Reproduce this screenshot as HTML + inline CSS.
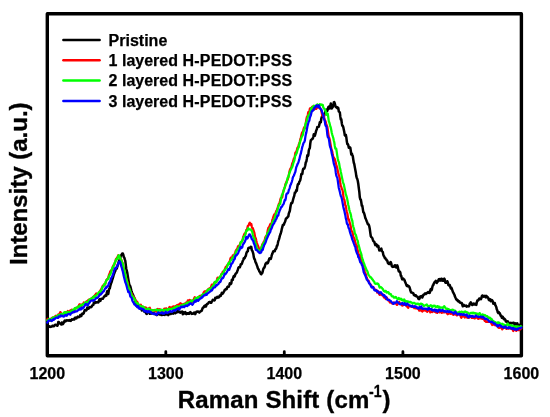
<!DOCTYPE html>
<html lang="en">
<head>
<meta charset="utf-8">
<title>Raman spectra</title>
<style>
html, body { margin: 0; padding: 0; background: #ffffff; }
body { width: 550px; height: 417px; overflow: hidden; }
svg { display: block; }
svg text { font-family: "Liberation Sans", Arial, Helvetica, sans-serif; font-weight: bold; fill: #000; stroke: #000; stroke-width: 0.25px; stroke-linejoin: round; }
svg text.title { stroke-width: 0.35px; }
</style>
</head>
<body>
<svg width="550" height="417" viewBox="0 0 550 417">
<rect x="0" y="0" width="550" height="417" fill="#ffffff"/>
<rect x="47.3" y="13.7" width="474.1" height="342.1" fill="none" stroke="#000" stroke-width="3.4" stroke-linejoin="round"/>
<g id="curves">
<path d="M47.3,326.63 L47.8,325.83 L48.3,326.95 L48.8,326.91 L49.3,326.32 L49.8,326.85 L50.3,326.93 L50.8,326.74 L51.3,326.64 L51.8,326.61 L52.3,325.85 L52.8,325.78 L53.3,325.83 L53.8,326.28 L54.3,325.88 L54.8,325.19 L55.3,324.68 L55.8,324.83 L56.3,324.89 L56.8,324.95 L57.3,325.80 L57.8,324.87 L58.3,322.02 L58.8,321.94 L59.3,323.19 L59.8,323.39 L60.3,323.61 L60.8,324.04 L61.3,324.46 L61.8,322.47 L62.3,322.63 L62.8,324.11 L63.3,323.48 L63.8,322.67 L64.3,321.33 L64.8,320.46 L65.3,321.39 L65.8,321.32 L66.3,320.27 L66.8,320.36 L67.3,320.60 L67.8,320.16 L68.3,320.49 L68.8,320.69 L69.3,320.41 L69.8,320.11 L70.3,320.74 L70.8,320.95 L71.3,320.14 L71.8,319.36 L72.3,319.80 L72.8,319.46 L73.3,319.56 L73.8,318.78 L74.3,319.42 L74.8,318.74 L75.3,317.63 L75.8,317.96 L76.3,318.36 L76.8,318.10 L77.3,316.95 L77.8,316.64 L78.3,317.20 L78.8,316.90 L79.3,317.06 L79.8,316.63 L80.3,314.96 L80.8,315.62 L81.3,316.01 L81.8,314.48 L82.3,313.60 L82.8,314.02 L83.3,313.64 L83.8,313.11 L84.3,311.44 L84.8,310.02 L85.3,310.20 L85.8,310.14 L86.3,310.42 L86.8,309.36 L87.3,307.45 L87.8,307.45 L88.3,308.77 L88.8,308.43 L89.3,307.12 L89.8,307.05 L90.3,307.26 L90.8,307.18 L91.3,307.03 L91.8,306.23 L92.3,305.40 L92.8,305.18 L93.3,304.93 L93.8,302.78 L94.3,303.23 L94.8,303.14 L95.3,302.07 L95.8,302.44 L96.3,302.16 L96.8,302.52 L97.3,302.03 L97.8,302.25 L98.3,302.39 L98.8,301.22 L99.3,299.48 L99.8,299.19 L100.3,300.87 L100.8,299.76 L101.3,298.68 L101.8,298.76 L102.3,298.62 L102.8,298.75 L103.3,297.94 L103.8,297.07 L104.3,296.34 L104.8,296.23 L105.3,295.29 L105.8,295.98 L106.3,295.74 L106.8,292.57 L107.3,291.12 L107.8,293.23 L108.3,293.93 L108.8,290.55 L109.3,288.66 L109.8,288.26 L110.3,285.98 L110.8,284.09 L111.3,282.74 L111.8,281.49 L112.3,279.48 L112.8,278.21 L113.3,276.43 L113.8,274.51 L114.3,273.27 L114.8,271.85 L115.3,270.89 L115.8,268.88 L116.3,268.01 L116.8,268.51 L117.3,266.53 L117.8,264.81 L118.3,263.57 L118.8,261.50 L119.3,260.16 L119.8,259.42 L120.3,257.70 L120.8,255.45 L121.3,255.38 L121.8,254.32 L122.3,253.42 L122.8,253.53 L123.3,254.71 L123.8,257.10 L124.3,257.64 L124.8,259.40 L125.3,260.84 L125.8,265.09 L126.3,269.02 L126.8,270.86 L127.3,272.91 L127.8,276.11 L128.3,279.13 L128.8,281.91 L129.3,284.69 L129.8,285.38 L130.3,286.29 L130.8,288.33 L131.3,290.28 L131.8,292.01 L132.3,293.55 L132.8,294.63 L133.3,295.21 L133.8,297.62 L134.3,298.08 L134.8,298.74 L135.3,301.23 L135.8,302.97 L136.3,303.26 L136.8,303.29 L137.3,304.10 L137.8,307.03 L138.3,306.56 L138.8,305.14 L139.3,305.74 L139.8,306.70 L140.3,306.66 L140.8,307.98 L141.3,308.91 L141.8,310.50 L142.3,310.21 L142.8,308.36 L143.3,309.49 L143.8,309.92 L144.3,311.64 L144.8,311.94 L145.3,311.77 L145.8,311.55 L146.3,313.62 L146.8,313.88 L147.3,312.03 L147.8,312.22 L148.3,312.09 L148.8,312.13 L149.3,312.29 L149.8,313.82 L150.3,312.74 L150.8,312.90 L151.3,313.56 L151.8,313.15 L152.3,313.26 L152.8,313.39 L153.3,313.52 L153.8,313.16 L154.3,313.65 L154.8,314.09 L155.3,314.24 L155.8,314.47 L156.3,314.60 L156.8,315.06 L157.3,314.57 L157.8,314.31 L158.3,314.00 L158.8,313.80 L159.3,313.74 L159.8,314.52 L160.3,313.81 L160.8,313.98 L161.3,314.97 L161.8,315.09 L162.3,314.06 L162.8,313.23 L163.3,314.67 L163.8,314.74 L164.3,313.96 L164.8,314.83 L165.3,314.10 L165.8,313.66 L166.3,314.37 L166.8,314.50 L167.3,314.17 L167.8,313.66 L168.3,315.14 L168.8,313.80 L169.3,312.90 L169.8,313.99 L170.3,313.87 L170.8,313.88 L171.3,313.52 L171.8,313.56 L172.3,313.53 L172.8,313.12 L173.3,313.58 L173.8,312.85 L174.3,312.37 L174.8,313.00 L175.3,313.25 L175.8,312.55 L176.3,312.16 L176.8,312.44 L177.3,311.06 L177.8,311.21 L178.3,311.81 L178.8,311.30 L179.3,311.97 L179.8,312.50 L180.3,312.76 L180.8,311.69 L181.3,311.75 L181.8,311.92 L182.3,311.53 L182.8,314.27 L183.3,312.85 L183.8,312.37 L184.3,313.50 L184.8,312.87 L185.3,312.02 L185.8,313.61 L186.3,314.16 L186.8,313.32 L187.3,313.36 L187.8,313.67 L188.3,313.13 L188.8,313.74 L189.3,313.65 L189.8,312.68 L190.3,312.15 L190.8,312.65 L191.3,312.87 L191.8,313.88 L192.3,313.78 L192.8,313.81 L193.3,313.41 L193.8,312.97 L194.3,312.47 L194.8,313.53 L195.3,314.14 L195.8,312.61 L196.3,311.85 L196.8,311.92 L197.3,311.59 L197.8,311.41 L198.3,311.74 L198.8,311.90 L199.3,312.57 L199.8,311.76 L200.3,311.54 L200.8,311.44 L201.3,310.64 L201.8,310.64 L202.3,308.89 L202.8,307.78 L203.3,307.63 L203.8,307.12 L204.3,306.08 L204.8,305.96 L205.3,305.40 L205.8,306.59 L206.3,305.65 L206.8,304.31 L207.3,303.66 L207.8,303.64 L208.3,303.27 L208.8,302.28 L209.3,301.96 L209.8,302.10 L210.3,302.03 L210.8,302.80 L211.3,302.69 L211.8,301.59 L212.3,300.82 L212.8,299.68 L213.3,300.30 L213.8,300.14 L214.3,300.40 L214.8,300.11 L215.3,297.66 L215.8,298.04 L216.3,297.81 L216.8,298.02 L217.3,296.85 L217.8,296.88 L218.3,297.47 L218.8,297.51 L219.3,296.57 L219.8,295.38 L220.3,295.30 L220.8,295.81 L221.3,294.44 L221.8,292.90 L222.3,293.78 L222.8,293.60 L223.3,292.87 L223.8,291.66 L224.3,291.14 L224.8,289.75 L225.3,289.72 L225.8,289.04 L226.3,289.25 L226.8,288.79 L227.3,287.02 L227.8,286.51 L228.3,286.47 L228.8,286.67 L229.3,285.36 L229.8,283.34 L230.3,283.57 L230.8,283.93 L231.3,283.33 L231.8,279.95 L232.3,279.52 L232.8,279.81 L233.3,277.16 L233.8,276.08 L234.3,276.82 L234.8,276.27 L235.3,274.24 L235.8,273.63 L236.3,272.97 L236.8,272.63 L237.3,271.04 L237.8,270.02 L238.3,267.99 L238.8,267.27 L239.3,267.12 L239.8,267.29 L240.3,265.96 L240.8,264.22 L241.3,264.37 L241.8,263.86 L242.3,262.27 L242.8,261.11 L243.3,259.84 L243.8,258.20 L244.3,258.59 L244.8,257.96 L245.3,256.49 L245.8,255.92 L246.3,253.53 L246.8,252.16 L247.3,251.57 L247.8,251.23 L248.3,248.04 L248.8,247.80 L249.3,247.77 L249.8,247.48 L250.3,247.93 L250.8,246.71 L251.3,247.02 L251.8,250.15 L252.3,250.76 L252.8,252.09 L253.3,253.80 L253.8,257.16 L254.3,258.79 L254.8,259.30 L255.3,261.50 L255.8,262.64 L256.3,263.66 L256.8,265.06 L257.3,266.43 L257.8,268.16 L258.3,268.99 L258.8,269.84 L259.3,271.47 L259.8,271.67 L260.3,272.77 L260.8,273.85 L261.3,274.19 L261.8,272.89 L262.3,272.99 L262.8,271.11 L263.3,269.07 L263.8,267.88 L264.3,267.82 L264.8,266.51 L265.3,264.42 L265.8,263.34 L266.3,262.92 L266.8,262.64 L267.3,263.41 L267.8,263.19 L268.3,261.81 L268.8,260.13 L269.3,258.59 L269.8,258.25 L270.3,258.76 L270.8,259.01 L271.3,257.11 L271.8,254.91 L272.3,253.85 L272.8,252.52 L273.3,251.37 L273.8,251.03 L274.3,251.11 L274.8,251.22 L275.3,249.42 L275.8,249.15 L276.3,248.30 L276.8,246.15 L277.3,245.57 L277.8,243.59 L278.3,241.10 L278.8,239.84 L279.3,238.15 L279.8,236.17 L280.3,234.51 L280.8,233.21 L281.3,231.46 L281.8,228.87 L282.3,227.21 L282.8,225.11 L283.3,225.17 L283.8,224.74 L284.3,223.27 L284.8,222.23 L285.3,221.08 L285.8,218.98 L286.3,218.17 L286.8,218.15 L287.3,217.56 L287.8,216.64 L288.3,216.47 L288.8,213.48 L289.3,212.32 L289.8,210.95 L290.3,207.77 L290.8,204.84 L291.3,203.09 L291.8,203.14 L292.3,202.79 L292.8,200.74 L293.3,198.75 L293.8,197.11 L294.3,195.64 L294.8,192.62 L295.3,192.84 L295.8,191.67 L296.3,190.04 L296.8,190.76 L297.3,186.88 L297.8,184.43 L298.3,183.77 L298.8,184.02 L299.3,181.69 L299.8,181.10 L300.3,179.91 L300.8,177.38 L301.3,174.23 L301.8,173.77 L302.3,174.03 L302.8,170.30 L303.3,168.64 L303.8,168.69 L304.3,168.56 L304.8,167.10 L305.3,165.21 L305.8,162.26 L306.3,161.68 L306.8,158.99 L307.3,155.30 L307.8,156.24 L308.3,155.13 L308.8,150.31 L309.3,148.90 L309.8,148.04 L310.3,143.34 L310.8,140.30 L311.3,139.72 L311.8,139.42 L312.3,138.75 L312.8,138.66 L313.3,136.75 L313.8,134.15 L314.3,134.97 L314.8,135.78 L315.3,134.20 L315.8,132.15 L316.3,130.24 L316.8,129.30 L317.3,127.14 L317.8,127.30 L318.3,126.68 L318.8,126.76 L319.3,124.93 L319.8,122.28 L320.3,122.57 L320.8,122.27 L321.3,118.74 L321.8,117.12 L322.3,115.59 L322.8,114.55 L323.3,116.48 L323.8,116.76 L324.3,115.05 L324.8,113.08 L325.3,111.73 L325.8,110.77 L326.3,109.60 L326.8,110.60 L327.3,110.72 L327.8,109.34 L328.3,107.05 L328.8,106.59 L329.3,107.00 L329.8,108.48 L330.3,106.12 L330.8,103.54 L331.3,106.10 L331.8,108.42 L332.3,107.59 L332.8,107.00 L333.3,105.19 L333.8,102.40 L334.3,102.11 L334.8,103.53 L335.3,105.57 L335.8,106.95 L336.3,107.40 L336.8,107.09 L337.3,108.19 L337.8,107.50 L338.3,108.08 L338.8,111.48 L339.3,111.98 L339.8,112.14 L340.3,116.40 L340.8,119.54 L341.3,119.24 L341.8,123.25 L342.3,125.74 L342.8,125.98 L343.3,127.29 L343.8,129.76 L344.3,132.07 L344.8,135.27 L345.3,135.67 L345.8,134.86 L346.3,137.20 L346.8,141.34 L347.3,144.15 L347.8,144.07 L348.3,145.32 L348.8,147.78 L349.3,147.43 L349.8,147.30 L350.3,147.67 L350.8,150.85 L351.3,154.51 L351.8,153.51 L352.3,154.95 L352.8,156.27 L353.3,159.71 L353.8,162.76 L354.3,164.22 L354.8,167.11 L355.3,169.70 L355.8,172.41 L356.3,176.08 L356.8,177.89 L357.3,179.01 L357.8,180.95 L358.3,184.01 L358.8,188.07 L359.3,191.73 L359.8,197.29 L360.3,199.41 L360.8,199.59 L361.3,202.22 L361.8,205.75 L362.3,205.77 L362.8,208.84 L363.3,212.16 L363.8,212.54 L364.3,213.86 L364.8,215.78 L365.3,217.86 L365.8,218.89 L366.3,220.17 L366.8,221.43 L367.3,222.56 L367.8,224.26 L368.3,224.20 L368.8,224.76 L369.3,226.43 L369.8,229.06 L370.3,232.80 L370.8,236.26 L371.3,237.18 L371.8,237.36 L372.3,238.10 L372.8,239.67 L373.3,240.97 L373.8,241.52 L374.3,241.80 L374.8,243.69 L375.3,245.13 L375.8,243.84 L376.3,244.67 L376.8,244.77 L377.3,246.54 L377.8,246.36 L378.3,245.84 L378.8,248.33 L379.3,250.41 L379.8,249.99 L380.3,250.44 L380.8,249.41 L381.3,248.48 L381.8,250.85 L382.3,251.51 L382.8,252.07 L383.3,254.86 L383.8,256.00 L384.3,256.61 L384.8,258.05 L385.3,258.11 L385.8,259.20 L386.3,259.35 L386.8,260.38 L387.3,260.75 L387.8,262.83 L388.3,263.41 L388.8,263.96 L389.3,262.88 L389.8,263.39 L390.3,264.05 L390.8,262.12 L391.3,263.56 L391.8,266.13 L392.3,266.72 L392.8,266.93 L393.3,266.48 L393.8,266.79 L394.3,266.00 L394.8,265.26 L395.3,265.47 L395.8,266.77 L396.3,267.50 L396.8,267.02 L397.3,265.38 L397.8,266.96 L398.3,269.69 L398.8,271.39 L399.3,271.63 L399.8,271.57 L400.3,272.40 L400.8,275.76 L401.3,275.98 L401.8,278.29 L402.3,279.39 L402.8,278.75 L403.3,278.60 L403.8,279.34 L404.3,279.59 L404.8,281.11 L405.3,282.18 L405.8,283.43 L406.3,284.91 L406.8,285.84 L407.3,285.41 L407.8,286.25 L408.3,285.82 L408.8,286.04 L409.3,286.90 L409.8,287.97 L410.3,290.27 L410.8,291.69 L411.3,292.45 L411.8,292.39 L412.3,292.86 L412.8,292.85 L413.3,293.26 L413.8,294.94 L414.3,295.30 L414.8,295.02 L415.3,295.82 L415.8,295.20 L416.3,296.11 L416.8,296.53 L417.3,296.62 L417.8,296.98 L418.3,298.55 L418.8,299.04 L419.3,299.14 L419.8,297.93 L420.3,296.51 L420.8,296.36 L421.3,296.06 L421.8,297.01 L422.3,297.44 L422.8,296.27 L423.3,294.94 L423.8,294.69 L424.3,294.48 L424.8,293.43 L425.3,294.06 L425.8,294.08 L426.3,293.27 L426.8,293.08 L427.3,293.08 L427.8,292.14 L428.3,292.01 L428.8,292.87 L429.3,292.91 L429.8,292.83 L430.3,290.32 L430.8,289.03 L431.3,290.32 L431.8,289.74 L432.3,287.16 L432.8,285.49 L433.3,285.05 L433.8,283.51 L434.3,282.91 L434.8,281.64 L435.3,281.73 L435.8,280.76 L436.3,281.92 L436.8,283.07 L437.3,281.99 L437.8,281.63 L438.3,280.34 L438.8,279.27 L439.3,279.14 L439.8,280.57 L440.3,280.56 L440.8,280.63 L441.3,278.73 L441.8,278.64 L442.3,279.43 L442.8,280.72 L443.3,280.82 L443.8,279.12 L444.3,278.56 L444.8,279.66 L445.3,282.61 L445.8,282.83 L446.3,282.61 L446.8,282.64 L447.3,281.24 L447.8,282.30 L448.3,284.96 L448.8,285.51 L449.3,285.21 L449.8,285.07 L450.3,287.03 L450.8,288.45 L451.3,287.58 L451.8,288.75 L452.3,290.09 L452.8,291.67 L453.3,292.68 L453.8,293.54 L454.3,294.48 L454.8,296.16 L455.3,297.20 L455.8,298.36 L456.3,299.34 L456.8,300.09 L457.3,299.75 L457.8,300.35 L458.3,301.52 L458.8,301.14 L459.3,301.38 L459.8,302.47 L460.3,302.67 L460.8,302.89 L461.3,303.11 L461.8,303.01 L462.3,304.80 L462.8,306.31 L463.3,305.86 L463.8,304.86 L464.3,305.74 L464.8,305.61 L465.3,305.93 L465.8,305.96 L466.3,305.52 L466.8,306.62 L467.3,306.16 L467.8,306.18 L468.3,306.21 L468.8,306.43 L469.3,305.55 L469.8,303.56 L470.3,303.32 L470.8,302.29 L471.3,303.25 L471.8,304.58 L472.3,305.04 L472.8,304.84 L473.3,303.66 L473.8,303.57 L474.3,303.73 L474.8,304.52 L475.3,304.33 L475.8,303.58 L476.3,304.90 L476.8,302.28 L477.3,300.60 L477.8,300.70 L478.3,300.42 L478.8,299.40 L479.3,298.46 L479.8,299.12 L480.3,298.68 L480.8,299.24 L481.3,298.57 L481.8,296.20 L482.3,295.51 L482.8,295.74 L483.3,296.56 L483.8,296.68 L484.3,296.43 L484.8,295.90 L485.3,296.90 L485.8,297.39 L486.3,295.87 L486.8,296.40 L487.3,297.24 L487.8,297.34 L488.3,298.05 L488.8,299.87 L489.3,300.25 L489.8,299.68 L490.3,299.41 L490.8,301.29 L491.3,300.73 L491.8,299.98 L492.3,300.37 L492.8,301.56 L493.3,303.71 L493.8,303.46 L494.3,302.97 L494.8,302.90 L495.3,305.31 L495.8,305.90 L496.3,307.14 L496.8,309.40 L497.3,310.33 L497.8,312.37 L498.3,313.08 L498.8,312.04 L499.3,312.88 L499.8,313.21 L500.3,314.86 L500.8,315.99 L501.3,315.85 L501.8,317.72 L502.3,317.24 L502.8,316.86 L503.3,318.25 L503.8,319.21 L504.3,318.66 L504.8,319.30 L505.3,319.71 L505.8,321.45 L506.3,321.49 L506.8,321.46 L507.3,322.13 L507.8,321.23 L508.3,322.14 L508.8,323.79 L509.3,323.44 L509.8,323.96 L510.3,323.39 L510.8,322.70 L511.3,323.06 L511.8,323.46 L512.3,323.22 L512.8,322.94 L513.3,322.82 L513.8,322.82 L514.3,324.02 L514.8,324.80 L515.3,324.55 L515.8,323.40 L516.3,324.52 L516.8,324.20 L517.3,323.31 L517.8,324.29 L518.3,325.14 L518.8,325.15 L519.3,325.29 L519.8,325.50 L520.3,325.28 L520.8,324.05 L521.3,322.60" fill="none" stroke="#000000" stroke-width="2.5" stroke-linejoin="round" stroke-linecap="round"/>
<path d="M47.3,319.35 L47.8,318.77 L48.3,320.82 L48.8,320.80 L49.3,319.72 L49.8,319.81 L50.3,319.32 L50.8,318.78 L51.3,319.11 L51.8,318.35 L52.3,317.70 L52.8,317.40 L53.3,317.73 L53.8,317.50 L54.3,317.27 L54.8,316.50 L55.3,316.22 L55.8,315.79 L56.3,316.30 L56.8,315.99 L57.3,315.69 L57.8,315.19 L58.3,314.40 L58.8,315.35 L59.3,315.57 L59.8,313.13 L60.3,312.10 L60.8,312.61 L61.3,313.96 L61.8,314.09 L62.3,314.38 L62.8,314.11 L63.3,313.59 L63.8,313.31 L64.3,313.14 L64.8,313.18 L65.3,312.09 L65.8,312.14 L66.3,312.98 L66.8,313.47 L67.3,311.84 L67.8,310.98 L68.3,311.44 L68.8,312.14 L69.3,311.82 L69.8,311.67 L70.3,310.30 L70.8,311.39 L71.3,311.22 L71.8,309.63 L72.3,310.15 L72.8,310.74 L73.3,310.17 L73.8,310.61 L74.3,311.04 L74.8,309.52 L75.3,308.28 L75.8,307.87 L76.3,308.28 L76.8,307.74 L77.3,307.29 L77.8,307.24 L78.3,307.09 L78.8,305.66 L79.3,304.43 L79.8,304.23 L80.3,306.00 L80.8,306.09 L81.3,306.18 L81.8,304.97 L82.3,304.08 L82.8,304.33 L83.3,303.64 L83.8,302.45 L84.3,302.74 L84.8,304.05 L85.3,303.37 L85.8,302.59 L86.3,301.69 L86.8,301.28 L87.3,301.74 L87.8,300.92 L88.3,300.04 L88.8,299.81 L89.3,299.34 L89.8,299.83 L90.3,299.98 L90.8,299.02 L91.3,299.35 L91.8,298.27 L92.3,297.79 L92.8,297.08 L93.3,297.00 L93.8,296.86 L94.3,296.12 L94.8,295.41 L95.3,294.89 L95.8,294.16 L96.3,293.42 L96.8,293.84 L97.3,294.24 L97.8,294.17 L98.3,293.98 L98.8,294.14 L99.3,292.24 L99.8,291.10 L100.3,291.27 L100.8,289.54 L101.3,289.17 L101.8,287.89 L102.3,287.11 L102.8,285.71 L103.3,286.25 L103.8,285.18 L104.3,284.14 L104.8,284.82 L105.3,283.72 L105.8,281.83 L106.3,280.29 L106.8,279.62 L107.3,278.95 L107.8,278.62 L108.3,277.53 L108.8,275.45 L109.3,274.16 L109.8,272.92 L110.3,271.36 L110.8,270.71 L111.3,270.31 L111.8,270.01 L112.3,268.96 L112.8,266.62 L113.3,265.70 L113.8,264.80 L114.3,264.88 L114.8,262.97 L115.3,261.50 L115.8,259.61 L116.3,258.57 L116.8,258.23 L117.3,257.30 L117.8,256.48 L118.3,255.29 L118.8,256.10 L119.3,256.49 L119.8,258.29 L120.3,258.64 L120.8,259.60 L121.3,259.62 L121.8,261.24 L122.3,262.17 L122.8,264.07 L123.3,266.56 L123.8,268.83 L124.3,271.62 L124.8,274.37 L125.3,276.33 L125.8,277.27 L126.3,278.07 L126.8,280.11 L127.3,281.98 L127.8,283.10 L128.3,286.12 L128.8,287.58 L129.3,288.99 L129.8,291.02 L130.3,292.13 L130.8,292.50 L131.3,292.82 L131.8,294.43 L132.3,295.38 L132.8,295.84 L133.3,297.66 L133.8,297.98 L134.3,297.40 L134.8,298.77 L135.3,299.61 L135.8,301.63 L136.3,302.20 L136.8,301.46 L137.3,301.99 L137.8,303.24 L138.3,304.20 L138.8,305.70 L139.3,305.78 L139.8,305.47 L140.3,305.55 L140.8,304.78 L141.3,306.23 L141.8,307.19 L142.3,306.73 L142.8,306.65 L143.3,307.97 L143.8,309.05 L144.3,308.05 L144.8,307.52 L145.3,308.41 L145.8,307.43 L146.3,308.24 L146.8,308.55 L147.3,309.10 L147.8,308.87 L148.3,309.88 L148.8,309.37 L149.3,307.83 L149.8,307.74 L150.3,309.36 L150.8,310.72 L151.3,310.40 L151.8,310.11 L152.3,310.18 L152.8,310.74 L153.3,310.70 L153.8,310.25 L154.3,309.86 L154.8,311.11 L155.3,311.12 L155.8,310.14 L156.3,311.66 L156.8,311.12 L157.3,309.59 L157.8,308.92 L158.3,310.34 L158.8,310.60 L159.3,309.50 L159.8,309.08 L160.3,310.43 L160.8,309.94 L161.3,310.39 L161.8,312.55 L162.3,312.54 L162.8,311.21 L163.3,310.18 L163.8,309.89 L164.3,308.59 L164.8,309.29 L165.3,309.02 L165.8,308.28 L166.3,308.32 L166.8,309.49 L167.3,309.55 L167.8,309.51 L168.3,309.46 L168.8,308.21 L169.3,307.26 L169.8,306.96 L170.3,307.92 L170.8,308.64 L171.3,308.27 L171.8,308.02 L172.3,306.93 L172.8,306.77 L173.3,306.45 L173.8,306.60 L174.3,308.27 L174.8,307.76 L175.3,306.23 L175.8,305.84 L176.3,305.83 L176.8,305.28 L177.3,305.68 L177.8,304.93 L178.3,304.82 L178.8,304.52 L179.3,304.36 L179.8,303.66 L180.3,303.26 L180.8,303.52 L181.3,303.80 L181.8,304.06 L182.3,304.60 L182.8,305.39 L183.3,304.82 L183.8,303.98 L184.3,303.94 L184.8,303.51 L185.3,304.31 L185.8,303.56 L186.3,302.33 L186.8,303.20 L187.3,302.72 L187.8,300.51 L188.3,300.90 L188.8,300.97 L189.3,299.97 L189.8,300.01 L190.3,300.39 L190.8,301.14 L191.3,301.63 L191.8,302.26 L192.3,300.77 L192.8,300.65 L193.3,300.05 L193.8,299.35 L194.3,297.96 L194.8,297.11 L195.3,297.88 L195.8,299.21 L196.3,299.70 L196.8,298.93 L197.3,298.06 L197.8,297.39 L198.3,298.48 L198.8,298.19 L199.3,296.64 L199.8,296.02 L200.3,295.74 L200.8,296.71 L201.3,296.08 L201.8,295.23 L202.3,295.12 L202.8,294.68 L203.3,293.48 L203.8,292.26 L204.3,291.52 L204.8,291.30 L205.3,292.80 L205.8,293.25 L206.3,290.84 L206.8,290.86 L207.3,290.72 L207.8,289.60 L208.3,289.35 L208.8,288.78 L209.3,289.23 L209.8,288.15 L210.3,287.87 L210.8,287.69 L211.3,286.15 L211.8,284.65 L212.3,285.02 L212.8,285.53 L213.3,284.72 L213.8,283.82 L214.3,282.61 L214.8,282.72 L215.3,282.66 L215.8,282.11 L216.3,282.17 L216.8,280.17 L217.3,278.19 L217.8,277.57 L218.3,278.55 L218.8,277.93 L219.3,277.62 L219.8,277.09 L220.3,277.08 L220.8,276.01 L221.3,274.14 L221.8,273.75 L222.3,273.26 L222.8,271.67 L223.3,272.40 L223.8,272.15 L224.3,270.89 L224.8,269.33 L225.3,268.32 L225.8,266.92 L226.3,266.57 L226.8,265.80 L227.3,265.25 L227.8,264.41 L228.3,264.34 L228.8,263.82 L229.3,261.88 L229.8,261.42 L230.3,258.83 L230.8,257.64 L231.3,258.43 L231.8,258.36 L232.3,257.34 L232.8,255.35 L233.3,255.26 L233.8,255.28 L234.3,255.01 L234.8,253.51 L235.3,252.37 L235.8,250.65 L236.3,249.93 L236.8,249.35 L237.3,248.86 L237.8,246.91 L238.3,246.05 L238.8,246.67 L239.3,246.75 L239.8,244.96 L240.3,243.39 L240.8,242.27 L241.3,242.19 L241.8,241.51 L242.3,241.01 L242.8,238.84 L243.3,236.49 L243.8,235.36 L244.3,234.02 L244.8,233.23 L245.3,233.90 L245.8,232.30 L246.3,229.92 L246.8,230.19 L247.3,228.15 L247.8,225.96 L248.3,225.74 L248.8,224.87 L249.3,223.40 L249.8,222.71 L250.3,224.41 L250.8,224.82 L251.3,223.92 L251.8,226.58 L252.3,228.05 L252.8,228.20 L253.3,229.63 L253.8,231.05 L254.3,232.57 L254.8,235.31 L255.3,237.97 L255.8,238.23 L256.3,240.69 L256.8,242.81 L257.3,244.05 L257.8,245.56 L258.3,246.53 L258.8,248.13 L259.3,249.75 L259.8,249.98 L260.3,249.67 L260.8,250.72 L261.3,247.84 L261.8,245.99 L262.3,244.47 L262.8,243.42 L263.3,243.18 L263.8,241.52 L264.3,241.32 L264.8,239.86 L265.3,237.32 L265.8,236.76 L266.3,235.65 L266.8,235.95 L267.3,232.86 L267.8,230.01 L268.3,228.00 L268.8,227.29 L269.3,226.80 L269.8,225.42 L270.3,224.11 L270.8,223.50 L271.3,223.42 L271.8,222.95 L272.3,219.83 L272.8,218.62 L273.3,217.24 L273.8,215.48 L274.3,214.41 L274.8,214.04 L275.3,214.07 L275.8,212.37 L276.3,210.85 L276.8,210.39 L277.3,208.97 L277.8,207.27 L278.3,205.95 L278.8,204.10 L279.3,203.63 L279.8,202.24 L280.3,199.69 L280.8,198.04 L281.3,198.42 L281.8,197.37 L282.3,197.03 L282.8,193.43 L283.3,191.75 L283.8,189.70 L284.3,188.60 L284.8,187.34 L285.3,184.67 L285.8,183.40 L286.3,182.36 L286.8,181.06 L287.3,180.15 L287.8,179.16 L288.3,177.42 L288.8,175.10 L289.3,172.55 L289.8,170.20 L290.3,168.90 L290.8,168.14 L291.3,167.57 L291.8,165.15 L292.3,163.07 L292.8,162.72 L293.3,160.48 L293.8,158.77 L294.3,158.13 L294.8,156.59 L295.3,152.85 L295.8,152.14 L296.3,152.22 L296.8,150.39 L297.3,148.19 L297.8,147.35 L298.3,147.12 L298.8,144.55 L299.3,143.44 L299.8,141.80 L300.3,139.17 L300.8,137.77 L301.3,135.57 L301.8,133.47 L302.3,132.22 L302.8,132.41 L303.3,130.39 L303.8,128.23 L304.3,127.23 L304.8,128.38 L305.3,126.42 L305.8,123.08 L306.3,119.79 L306.8,117.15 L307.3,116.69 L307.8,114.73 L308.3,112.06 L308.8,112.86 L309.3,111.74 L309.8,108.89 L310.3,108.00 L310.8,108.00 L311.3,108.31 L311.8,107.40 L312.3,106.57 L312.8,108.93 L313.3,109.04 L313.8,109.62 L314.3,109.41 L314.8,107.98 L315.3,108.23 L315.8,108.93 L316.3,108.81 L316.8,107.65 L317.3,107.10 L317.8,107.50 L318.3,107.10 L318.8,106.77 L319.3,106.32 L319.8,108.09 L320.3,108.26 L320.8,109.25 L321.3,111.02 L321.8,113.25 L322.3,115.66 L322.8,114.94 L323.3,114.28 L323.8,116.44 L324.3,118.00 L324.8,119.96 L325.3,120.75 L325.8,122.09 L326.3,124.04 L326.8,125.48 L327.3,126.63 L327.8,129.86 L328.3,133.63 L328.8,136.88 L329.3,137.93 L329.8,139.85 L330.3,142.96 L330.8,145.79 L331.3,148.73 L331.8,150.04 L332.3,151.71 L332.8,155.10 L333.3,157.14 L333.8,157.33 L334.3,158.52 L334.8,159.02 L335.3,161.16 L335.8,162.87 L336.3,164.85 L336.8,166.54 L337.3,168.53 L337.8,170.78 L338.3,173.36 L338.8,175.22 L339.3,176.40 L339.8,178.61 L340.3,183.27 L340.8,186.03 L341.3,186.98 L341.8,189.00 L342.3,189.58 L342.8,191.55 L343.3,195.54 L343.8,199.02 L344.3,199.51 L344.8,201.91 L345.3,205.34 L345.8,205.84 L346.3,209.20 L346.8,211.73 L347.3,213.28 L347.8,216.26 L348.3,219.53 L348.8,219.25 L349.3,220.97 L349.8,223.18 L350.3,224.62 L350.8,226.72 L351.3,230.56 L351.8,231.45 L352.3,231.37 L352.8,233.67 L353.3,236.49 L353.8,237.80 L354.3,238.11 L354.8,240.28 L355.3,242.42 L355.8,244.05 L356.3,244.90 L356.8,245.52 L357.3,248.96 L357.8,250.56 L358.3,253.25 L358.8,255.30 L359.3,254.43 L359.8,254.92 L360.3,257.67 L360.8,258.94 L361.3,259.92 L361.8,261.72 L362.3,264.75 L362.8,265.11 L363.3,265.61 L363.8,267.55 L364.3,269.23 L364.8,271.56 L365.3,272.88 L365.8,274.18 L366.3,276.36 L366.8,277.41 L367.3,279.33 L367.8,280.68 L368.3,280.47 L368.8,280.97 L369.3,282.57 L369.8,283.90 L370.3,284.21 L370.8,284.79 L371.3,285.49 L371.8,286.44 L372.3,287.05 L372.8,286.79 L373.3,287.31 L373.8,288.11 L374.3,288.41 L374.8,289.39 L375.3,290.20 L375.8,290.17 L376.3,289.98 L376.8,290.73 L377.3,292.72 L377.8,292.59 L378.3,291.37 L378.8,292.13 L379.3,294.48 L379.8,294.92 L380.3,294.48 L380.8,294.65 L381.3,293.73 L381.8,294.74 L382.3,295.39 L382.8,294.34 L383.3,295.25 L383.8,297.10 L384.3,297.68 L384.8,297.11 L385.3,298.01 L385.8,299.05 L386.3,298.08 L386.8,297.59 L387.3,298.55 L387.8,299.37 L388.3,300.59 L388.8,300.34 L389.3,300.55 L389.8,302.33 L390.3,301.67 L390.8,302.13 L391.3,302.92 L391.8,303.26 L392.3,303.28 L392.8,303.54 L393.3,303.08 L393.8,302.40 L394.3,303.01 L394.8,303.37 L395.3,303.51 L395.8,303.60 L396.3,303.63 L396.8,304.91 L397.3,304.68 L397.8,302.64 L398.3,303.17 L398.8,302.77 L399.3,302.02 L399.8,303.51 L400.3,303.61 L400.8,303.55 L401.3,303.91 L401.8,305.21 L402.3,305.61 L402.8,305.18 L403.3,305.19 L403.8,304.91 L404.3,304.83 L404.8,304.60 L405.3,304.91 L405.8,304.96 L406.3,305.80 L406.8,306.40 L407.3,306.49 L407.8,307.47 L408.3,307.75 L408.8,305.38 L409.3,305.76 L409.8,306.03 L410.3,305.92 L410.8,305.81 L411.3,306.68 L411.8,306.87 L412.3,306.80 L412.8,307.07 L413.3,306.68 L413.8,306.35 L414.3,308.17 L414.8,308.02 L415.3,307.71 L415.8,308.37 L416.3,307.79 L416.8,307.37 L417.3,308.70 L417.8,308.10 L418.3,308.72 L418.8,309.70 L419.3,310.70 L419.8,310.74 L420.3,309.87 L420.8,309.15 L421.3,309.60 L421.8,310.96 L422.3,311.58 L422.8,310.67 L423.3,310.02 L423.8,310.64 L424.3,310.11 L424.8,309.86 L425.3,310.20 L425.8,310.81 L426.3,311.02 L426.8,311.56 L427.3,311.82 L427.8,310.75 L428.3,308.81 L428.8,309.08 L429.3,310.52 L429.8,311.36 L430.3,312.41 L430.8,311.44 L431.3,311.17 L431.8,311.99 L432.3,312.09 L432.8,311.45 L433.3,311.34 L433.8,310.51 L434.3,310.83 L434.8,311.83 L435.3,311.12 L435.8,312.12 L436.3,312.57 L436.8,312.68 L437.3,312.78 L437.8,312.02 L438.3,310.41 L438.8,310.73 L439.3,311.68 L439.8,312.41 L440.3,311.51 L440.8,311.48 L441.3,312.26 L441.8,312.92 L442.3,311.49 L442.8,311.44 L443.3,312.25 L443.8,311.44 L444.3,312.38 L444.8,312.20 L445.3,311.58 L445.8,312.05 L446.3,312.24 L446.8,313.02 L447.3,313.75 L447.8,314.28 L448.3,313.61 L448.8,313.26 L449.3,313.02 L449.8,313.56 L450.3,313.82 L450.8,312.70 L451.3,313.59 L451.8,313.59 L452.3,313.88 L452.8,314.39 L453.3,314.76 L453.8,314.40 L454.3,314.09 L454.8,314.45 L455.3,314.45 L455.8,314.42 L456.3,314.89 L456.8,315.37 L457.3,315.12 L457.8,314.73 L458.3,314.11 L458.8,314.28 L459.3,314.04 L459.8,315.12 L460.3,315.17 L460.8,316.80 L461.3,317.79 L461.8,316.36 L462.3,316.66 L462.8,316.31 L463.3,315.49 L463.8,315.51 L464.3,316.69 L464.8,317.44 L465.3,316.60 L465.8,315.31 L466.3,315.49 L466.8,316.61 L467.3,317.71 L467.8,317.44 L468.3,317.51 L468.8,317.88 L469.3,317.22 L469.8,317.03 L470.3,316.69 L470.8,316.15 L471.3,317.35 L471.8,317.99 L472.3,317.91 L472.8,316.70 L473.3,316.90 L473.8,318.06 L474.3,318.31 L474.8,318.41 L475.3,317.41 L475.8,317.46 L476.3,317.37 L476.8,317.70 L477.3,317.66 L477.8,318.33 L478.3,318.89 L478.8,318.23 L479.3,317.15 L479.8,318.40 L480.3,318.43 L480.8,317.44 L481.3,317.52 L481.8,318.41 L482.3,318.91 L482.8,318.24 L483.3,317.81 L483.8,318.98 L484.3,320.03 L484.8,320.89 L485.3,319.95 L485.8,321.71 L486.3,321.94 L486.8,321.36 L487.3,321.90 L487.8,321.69 L488.3,321.91 L488.8,321.51 L489.3,321.81 L489.8,321.51 L490.3,321.54 L490.8,322.54 L491.3,323.16 L491.8,324.32 L492.3,324.97 L492.8,324.45 L493.3,324.53 L493.8,324.47 L494.3,323.91 L494.8,324.93 L495.3,325.37 L495.8,325.23 L496.3,324.51 L496.8,324.25 L497.3,325.49 L497.8,326.62 L498.3,327.53 L498.8,327.83 L499.3,327.90 L499.8,327.56 L500.3,327.67 L500.8,327.25 L501.3,327.68 L501.8,328.56 L502.3,329.35 L502.8,327.91 L503.3,327.07 L503.8,328.10 L504.3,327.52 L504.8,327.57 L505.3,327.53 L505.8,327.66 L506.3,328.91 L506.8,328.74 L507.3,328.02 L507.8,328.18 L508.3,328.31 L508.8,328.74 L509.3,328.32 L509.8,327.95 L510.3,328.07 L510.8,328.46 L511.3,328.80 L511.8,328.44 L512.3,328.91 L512.8,329.93 L513.3,331.04 L513.8,329.74 L514.3,327.53 L514.8,328.40 L515.3,329.23 L515.8,330.04 L516.3,330.87 L516.8,329.98 L517.3,328.42 L517.8,329.42 L518.3,329.91 L518.8,330.18 L519.3,330.18 L519.8,329.07 L520.3,329.15 L520.8,327.97 L521.3,328.46" fill="none" stroke="#ff0000" stroke-width="2.25" stroke-linejoin="round" stroke-linecap="round"/>
<path d="M47.3,320.39 L47.8,320.22 L48.3,319.96 L48.8,319.60 L49.3,318.85 L49.8,319.12 L50.3,319.57 L50.8,320.78 L51.3,319.64 L51.8,318.63 L52.3,318.26 L52.8,317.76 L53.3,317.34 L53.8,317.46 L54.3,317.59 L54.8,317.28 L55.3,317.27 L55.8,316.64 L56.3,316.52 L56.8,316.85 L57.3,316.16 L57.8,315.27 L58.3,315.13 L58.8,315.53 L59.3,315.76 L59.8,314.72 L60.3,314.40 L60.8,314.55 L61.3,313.78 L61.8,313.82 L62.3,314.33 L62.8,314.17 L63.3,313.86 L63.8,313.38 L64.3,312.27 L64.8,313.16 L65.3,312.58 L65.8,312.10 L66.3,312.88 L66.8,313.08 L67.3,312.32 L67.8,311.83 L68.3,312.07 L68.8,312.27 L69.3,312.67 L69.8,312.28 L70.3,311.83 L70.8,311.75 L71.3,310.90 L71.8,310.33 L72.3,310.73 L72.8,310.60 L73.3,309.86 L73.8,309.36 L74.3,309.07 L74.8,308.15 L75.3,309.00 L75.8,308.81 L76.3,307.72 L76.8,307.77 L77.3,307.54 L77.8,307.48 L78.3,306.26 L78.8,306.33 L79.3,307.11 L79.8,306.75 L80.3,305.13 L80.8,305.25 L81.3,305.48 L81.8,305.22 L82.3,305.40 L82.8,304.31 L83.3,304.07 L83.8,303.72 L84.3,304.18 L84.8,303.49 L85.3,302.51 L85.8,302.02 L86.3,303.05 L86.8,302.82 L87.3,302.40 L87.8,302.14 L88.3,301.30 L88.8,300.29 L89.3,299.71 L89.8,299.73 L90.3,300.04 L90.8,298.78 L91.3,298.47 L91.8,298.53 L92.3,298.60 L92.8,298.22 L93.3,296.90 L93.8,296.26 L94.3,296.90 L94.8,297.35 L95.3,296.80 L95.8,295.89 L96.3,295.15 L96.8,294.79 L97.3,294.28 L97.8,293.93 L98.3,292.88 L98.8,292.47 L99.3,292.03 L99.8,291.67 L100.3,291.40 L100.8,291.75 L101.3,290.95 L101.8,289.46 L102.3,287.18 L102.8,286.70 L103.3,286.32 L103.8,285.59 L104.3,284.07 L104.8,284.54 L105.3,283.78 L105.8,281.61 L106.3,280.44 L106.8,279.78 L107.3,279.40 L107.8,279.14 L108.3,278.61 L108.8,276.81 L109.3,275.80 L109.8,274.88 L110.3,274.36 L110.8,273.07 L111.3,271.61 L111.8,269.33 L112.3,268.07 L112.8,267.14 L113.3,267.01 L113.8,265.65 L114.3,263.80 L114.8,262.66 L115.3,261.94 L115.8,260.41 L116.3,259.23 L116.8,259.27 L117.3,259.16 L117.8,257.10 L118.3,255.79 L118.8,255.28 L119.3,255.76 L119.8,257.51 L120.3,258.77 L120.8,259.45 L121.3,260.56 L121.8,261.66 L122.3,262.69 L122.8,263.73 L123.3,266.21 L123.8,268.81 L124.3,270.79 L124.8,273.00 L125.3,275.06 L125.8,277.34 L126.3,279.66 L126.8,281.02 L127.3,282.85 L127.8,285.07 L128.3,286.94 L128.8,288.28 L129.3,288.34 L129.8,290.22 L130.3,291.28 L130.8,292.55 L131.3,294.07 L131.8,295.26 L132.3,296.03 L132.8,296.69 L133.3,297.81 L133.8,297.95 L134.3,298.67 L134.8,299.74 L135.3,300.43 L135.8,302.13 L136.3,302.88 L136.8,303.54 L137.3,303.15 L137.8,303.26 L138.3,304.13 L138.8,304.80 L139.3,304.85 L139.8,305.45 L140.3,306.03 L140.8,306.72 L141.3,306.43 L141.8,306.91 L142.3,306.56 L142.8,306.42 L143.3,306.65 L143.8,306.91 L144.3,307.87 L144.8,308.61 L145.3,308.60 L145.8,309.05 L146.3,309.59 L146.8,309.24 L147.3,309.06 L147.8,308.76 L148.3,308.57 L148.8,309.29 L149.3,309.00 L149.8,309.85 L150.3,310.27 L150.8,310.68 L151.3,310.27 L151.8,310.00 L152.3,310.39 L152.8,310.24 L153.3,310.33 L153.8,310.49 L154.3,310.44 L154.8,310.28 L155.3,310.07 L155.8,309.97 L156.3,309.44 L156.8,309.94 L157.3,310.14 L157.8,311.15 L158.3,311.08 L158.8,309.85 L159.3,310.32 L159.8,310.38 L160.3,310.14 L160.8,310.61 L161.3,310.16 L161.8,309.60 L162.3,310.14 L162.8,310.47 L163.3,310.35 L163.8,309.98 L164.3,310.63 L164.8,310.60 L165.3,309.67 L165.8,309.59 L166.3,309.77 L166.8,309.88 L167.3,310.57 L167.8,309.84 L168.3,308.87 L168.8,308.75 L169.3,309.39 L169.8,310.12 L170.3,309.16 L170.8,308.80 L171.3,308.79 L171.8,308.80 L172.3,309.24 L172.8,308.26 L173.3,308.18 L173.8,308.02 L174.3,307.70 L174.8,307.22 L175.3,307.93 L175.8,307.33 L176.3,306.76 L176.8,306.16 L177.3,306.14 L177.8,306.72 L178.3,306.93 L178.8,306.78 L179.3,306.70 L179.8,306.24 L180.3,305.77 L180.8,305.86 L181.3,305.59 L181.8,305.17 L182.3,305.41 L182.8,305.49 L183.3,304.79 L183.8,304.33 L184.3,304.81 L184.8,305.07 L185.3,304.04 L185.8,303.56 L186.3,303.61 L186.8,303.58 L187.3,302.43 L187.8,302.97 L188.3,303.21 L188.8,302.49 L189.3,302.93 L189.8,302.41 L190.3,301.58 L190.8,301.23 L191.3,300.39 L191.8,300.75 L192.3,301.43 L192.8,300.67 L193.3,301.04 L193.8,300.47 L194.3,300.30 L194.8,299.37 L195.3,298.09 L195.8,298.46 L196.3,298.69 L196.8,297.86 L197.3,297.58 L197.8,298.02 L198.3,297.36 L198.8,296.56 L199.3,296.90 L199.8,297.36 L200.3,296.89 L200.8,297.18 L201.3,297.15 L201.8,295.93 L202.3,294.67 L202.8,294.24 L203.3,294.65 L203.8,294.86 L204.3,294.35 L204.8,293.82 L205.3,293.07 L205.8,292.74 L206.3,292.06 L206.8,291.40 L207.3,290.42 L207.8,289.84 L208.3,289.79 L208.8,289.21 L209.3,288.98 L209.8,289.25 L210.3,289.16 L210.8,289.77 L211.3,288.45 L211.8,286.98 L212.3,286.84 L212.8,286.12 L213.3,285.22 L213.8,285.07 L214.3,283.35 L214.8,281.85 L215.3,282.63 L215.8,282.30 L216.3,282.14 L216.8,280.61 L217.3,279.76 L217.8,280.00 L218.3,278.62 L218.8,278.40 L219.3,278.40 L219.8,277.18 L220.3,276.19 L220.8,275.72 L221.3,275.19 L221.8,273.99 L222.3,273.79 L222.8,273.67 L223.3,273.46 L223.8,271.49 L224.3,270.28 L224.8,270.18 L225.3,269.26 L225.8,268.69 L226.3,268.19 L226.8,267.67 L227.3,266.19 L227.8,264.94 L228.3,263.20 L228.8,263.36 L229.3,263.86 L229.8,262.25 L230.3,260.91 L230.8,260.14 L231.3,260.18 L231.8,259.20 L232.3,257.86 L232.8,257.75 L233.3,257.12 L233.8,256.20 L234.3,255.08 L234.8,255.08 L235.3,253.79 L235.8,252.26 L236.3,251.09 L236.8,250.49 L237.3,250.07 L237.8,248.96 L238.3,248.51 L238.8,247.69 L239.3,246.99 L239.8,245.70 L240.3,243.74 L240.8,241.93 L241.3,242.04 L241.8,241.70 L242.3,240.55 L242.8,239.51 L243.3,238.04 L243.8,236.85 L244.3,236.04 L244.8,236.03 L245.3,234.46 L245.8,232.44 L246.3,230.85 L246.8,230.63 L247.3,230.68 L247.8,229.34 L248.3,228.27 L248.8,229.07 L249.3,229.43 L249.8,229.27 L250.3,229.42 L250.8,229.84 L251.3,230.12 L251.8,230.93 L252.3,232.04 L252.8,234.67 L253.3,236.57 L253.8,238.28 L254.3,238.19 L254.8,240.69 L255.3,242.84 L255.8,243.99 L256.3,245.95 L256.8,247.84 L257.3,248.97 L257.8,249.49 L258.3,250.55 L258.8,251.79 L259.3,251.92 L259.8,250.94 L260.3,250.14 L260.8,249.60 L261.3,248.81 L261.8,246.68 L262.3,245.38 L262.8,244.96 L263.3,243.67 L263.8,242.84 L264.3,242.31 L264.8,241.18 L265.3,239.45 L265.8,238.48 L266.3,236.46 L266.8,235.63 L267.3,233.59 L267.8,232.50 L268.3,232.34 L268.8,230.85 L269.3,229.31 L269.8,228.51 L270.3,227.91 L270.8,226.65 L271.3,225.65 L271.8,224.82 L272.3,222.81 L272.8,221.40 L273.3,220.57 L273.8,220.36 L274.3,219.39 L274.8,217.95 L275.3,215.78 L275.8,214.26 L276.3,213.21 L276.8,211.47 L277.3,210.54 L277.8,208.98 L278.3,206.71 L278.8,205.34 L279.3,204.42 L279.8,204.37 L280.3,203.29 L280.8,200.22 L281.3,197.69 L281.8,195.22 L282.3,194.83 L282.8,193.49 L283.3,191.61 L283.8,190.59 L284.3,188.19 L284.8,187.14 L285.3,185.86 L285.8,183.96 L286.3,183.65 L286.8,182.22 L287.3,179.04 L287.8,177.42 L288.3,177.19 L288.8,175.43 L289.3,173.16 L289.8,172.08 L290.3,170.92 L290.8,169.67 L291.3,168.75 L291.8,167.50 L292.3,166.81 L292.8,165.20 L293.3,163.19 L293.8,161.88 L294.3,160.51 L294.8,158.14 L295.3,155.58 L295.8,154.95 L296.3,153.77 L296.8,152.85 L297.3,150.71 L297.8,149.10 L298.3,147.90 L298.8,147.00 L299.3,144.59 L299.8,142.52 L300.3,141.16 L300.8,139.38 L301.3,138.11 L301.8,136.71 L302.3,135.81 L302.8,135.08 L303.3,132.32 L303.8,130.49 L304.3,129.08 L304.8,127.56 L305.3,124.76 L305.8,123.10 L306.3,122.18 L306.8,121.00 L307.3,118.98 L307.8,116.90 L308.3,115.50 L308.8,115.41 L309.3,114.88 L309.8,112.90 L310.3,111.35 L310.8,110.06 L311.3,108.24 L311.8,107.65 L312.3,107.46 L312.8,107.35 L313.3,106.47 L313.8,105.64 L314.3,107.03 L314.8,107.30 L315.3,105.79 L315.8,105.58 L316.3,105.67 L316.8,105.32 L317.3,104.35 L317.8,105.60 L318.3,105.13 L318.8,105.60 L319.3,104.93 L319.8,104.27 L320.3,104.65 L320.8,105.23 L321.3,104.47 L321.8,104.70 L322.3,104.81 L322.8,105.04 L323.3,107.47 L323.8,108.23 L324.3,108.73 L324.8,109.96 L325.3,109.89 L325.8,111.68 L326.3,114.38 L326.8,114.79 L327.3,113.26 L327.8,113.80 L328.3,117.62 L328.8,121.25 L329.3,122.40 L329.8,124.23 L330.3,126.44 L330.8,127.69 L331.3,130.29 L331.8,132.93 L332.3,134.83 L332.8,136.46 L333.3,137.99 L333.8,140.40 L334.3,142.49 L334.8,145.98 L335.3,148.66 L335.8,148.27 L336.3,148.99 L336.8,152.35 L337.3,155.79 L337.8,158.80 L338.3,160.88 L338.8,161.89 L339.3,164.30 L339.8,167.55 L340.3,169.14 L340.8,172.06 L341.3,174.10 L341.8,176.68 L342.3,179.08 L342.8,181.30 L343.3,183.10 L343.8,184.32 L344.3,186.91 L344.8,189.27 L345.3,191.82 L345.8,194.39 L346.3,195.71 L346.8,197.30 L347.3,199.52 L347.8,202.26 L348.3,204.93 L348.8,206.75 L349.3,209.68 L349.8,211.55 L350.3,212.88 L350.8,214.47 L351.3,217.41 L351.8,219.55 L352.3,220.72 L352.8,224.18 L353.3,226.79 L353.8,228.05 L354.3,230.21 L354.8,233.10 L355.3,234.21 L355.8,234.71 L356.3,236.64 L356.8,238.58 L357.3,239.93 L357.8,241.02 L358.3,243.96 L358.8,245.67 L359.3,247.55 L359.8,249.44 L360.3,251.45 L360.8,252.57 L361.3,254.02 L361.8,256.57 L362.3,258.68 L362.8,259.82 L363.3,261.85 L363.8,262.92 L364.3,264.12 L364.8,266.08 L365.3,266.80 L365.8,268.40 L366.3,269.34 L366.8,270.51 L367.3,271.02 L367.8,272.42 L368.3,274.47 L368.8,275.30 L369.3,275.88 L369.8,276.55 L370.3,277.33 L370.8,277.19 L371.3,277.81 L371.8,278.85 L372.3,279.24 L372.8,279.84 L373.3,280.70 L373.8,281.24 L374.3,281.99 L374.8,283.33 L375.3,283.79 L375.8,283.99 L376.3,283.68 L376.8,283.45 L377.3,283.47 L377.8,284.01 L378.3,283.96 L378.8,285.12 L379.3,286.67 L379.8,287.65 L380.3,287.50 L380.8,287.03 L381.3,287.57 L381.8,287.77 L382.3,288.60 L382.8,288.92 L383.3,289.93 L383.8,291.08 L384.3,291.11 L384.8,291.55 L385.3,290.93 L385.8,290.94 L386.3,292.18 L386.8,292.67 L387.3,292.04 L387.8,292.12 L388.3,292.07 L388.8,293.06 L389.3,294.09 L389.8,294.10 L390.3,293.93 L390.8,294.12 L391.3,295.36 L391.8,296.22 L392.3,296.48 L392.8,296.33 L393.3,296.31 L393.8,297.58 L394.3,297.40 L394.8,297.43 L395.3,297.59 L395.8,296.82 L396.3,297.60 L396.8,298.21 L397.3,298.81 L397.8,299.44 L398.3,298.93 L398.8,298.02 L399.3,298.66 L399.8,299.35 L400.3,299.33 L400.8,298.68 L401.3,298.78 L401.8,299.99 L402.3,300.37 L402.8,300.02 L403.3,299.84 L403.8,300.71 L404.3,299.51 L404.8,300.59 L405.3,302.06 L405.8,301.55 L406.3,301.27 L406.8,301.20 L407.3,301.95 L407.8,301.44 L408.3,301.89 L408.8,302.03 L409.3,301.86 L409.8,302.38 L410.3,301.78 L410.8,301.99 L411.3,302.50 L411.8,302.68 L412.3,303.25 L412.8,303.53 L413.3,303.05 L413.8,302.83 L414.3,302.92 L414.8,303.30 L415.3,303.85 L415.8,303.73 L416.3,303.88 L416.8,303.70 L417.3,303.62 L417.8,304.13 L418.3,303.72 L418.8,304.27 L419.3,304.85 L419.8,304.05 L420.3,303.97 L420.8,303.64 L421.3,303.85 L421.8,303.81 L422.3,304.27 L422.8,304.57 L423.3,305.21 L423.8,305.92 L424.3,305.65 L424.8,305.58 L425.3,305.33 L425.8,305.10 L426.3,304.68 L426.8,304.48 L427.3,305.61 L427.8,306.59 L428.3,306.18 L428.8,305.91 L429.3,306.57 L429.8,305.93 L430.3,305.45 L430.8,305.23 L431.3,305.44 L431.8,306.29 L432.3,307.24 L432.8,306.42 L433.3,305.77 L433.8,305.97 L434.3,306.04 L434.8,305.72 L435.3,306.55 L435.8,307.15 L436.3,307.16 L436.8,306.98 L437.3,306.07 L437.8,306.12 L438.3,307.59 L438.8,307.62 L439.3,306.63 L439.8,307.12 L440.3,307.49 L440.8,307.75 L441.3,307.64 L441.8,307.44 L442.3,307.76 L442.8,307.92 L443.3,307.61 L443.8,306.59 L444.3,306.19 L444.8,307.08 L445.3,307.45 L445.8,308.45 L446.3,309.04 L446.8,308.91 L447.3,308.71 L447.8,309.13 L448.3,309.56 L448.8,309.19 L449.3,309.79 L449.8,310.00 L450.3,310.07 L450.8,310.36 L451.3,309.90 L451.8,310.20 L452.3,309.73 L452.8,309.62 L453.3,309.91 L453.8,310.56 L454.3,310.45 L454.8,310.68 L455.3,310.79 L455.8,311.97 L456.3,312.61 L456.8,312.32 L457.3,312.71 L457.8,312.81 L458.3,313.20 L458.8,312.26 L459.3,311.69 L459.8,312.74 L460.3,312.35 L460.8,311.74 L461.3,311.66 L461.8,311.53 L462.3,311.98 L462.8,312.23 L463.3,313.24 L463.8,312.91 L464.3,311.67 L464.8,311.55 L465.3,311.84 L465.8,311.65 L466.3,312.36 L466.8,312.60 L467.3,312.32 L467.8,312.51 L468.3,313.26 L468.8,313.93 L469.3,313.92 L469.8,313.39 L470.3,313.34 L470.8,312.92 L471.3,313.05 L471.8,312.90 L472.3,313.24 L472.8,312.65 L473.3,312.67 L473.8,313.35 L474.3,313.52 L474.8,312.85 L475.3,313.14 L475.8,313.71 L476.3,313.77 L476.8,313.49 L477.3,313.79 L477.8,314.12 L478.3,314.83 L478.8,314.47 L479.3,313.35 L479.8,313.08 L480.3,314.34 L480.8,315.18 L481.3,315.08 L481.8,315.15 L482.3,314.57 L482.8,314.38 L483.3,315.30 L483.8,315.56 L484.3,315.55 L484.8,315.04 L485.3,315.51 L485.8,315.78 L486.3,316.32 L486.8,316.12 L487.3,316.18 L487.8,316.82 L488.3,317.88 L488.8,317.82 L489.3,317.58 L489.8,317.71 L490.3,318.44 L490.8,319.49 L491.3,318.80 L491.8,319.29 L492.3,320.52 L492.8,321.08 L493.3,320.94 L493.8,321.44 L494.3,321.87 L494.8,322.08 L495.3,322.17 L495.8,322.81 L496.3,322.82 L496.8,323.03 L497.3,322.52 L497.8,322.94 L498.3,322.37 L498.8,322.40 L499.3,323.28 L499.8,323.32 L500.3,323.62 L500.8,323.66 L501.3,324.58 L501.8,324.19 L502.3,323.72 L502.8,324.40 L503.3,324.79 L503.8,324.43 L504.3,325.14 L504.8,325.99 L505.3,325.63 L505.8,325.03 L506.3,324.90 L506.8,325.11 L507.3,324.14 L507.8,323.54 L508.3,324.44 L508.8,325.14 L509.3,326.23 L509.8,325.81 L510.3,325.05 L510.8,325.12 L511.3,325.73 L511.8,325.46 L512.3,325.51 L512.8,325.87 L513.3,326.09 L513.8,326.18 L514.3,326.43 L514.8,327.11 L515.3,327.01 L515.8,326.20 L516.3,327.34 L516.8,327.07 L517.3,326.93 L517.8,326.38 L518.3,326.59 L518.8,326.72 L519.3,326.80 L519.8,327.13 L520.3,326.91 L520.8,326.26 L521.3,326.56" fill="none" stroke="#00ff00" stroke-width="2.25" stroke-linejoin="round" stroke-linecap="round"/>
<path d="M47.3,322.67 L47.8,321.89 L48.3,320.63 L48.8,320.81 L49.3,320.74 L49.8,320.56 L50.3,319.91 L50.8,320.40 L51.3,320.78 L51.8,321.08 L52.3,320.49 L52.8,319.81 L53.3,319.24 L53.8,319.92 L54.3,318.68 L54.8,319.07 L55.3,318.52 L55.8,317.79 L56.3,317.59 L56.8,317.60 L57.3,317.86 L57.8,317.86 L58.3,317.84 L58.8,316.49 L59.3,316.54 L59.8,316.52 L60.3,316.59 L60.8,315.51 L61.3,315.92 L61.8,316.11 L62.3,315.62 L62.8,316.39 L63.3,316.44 L63.8,316.63 L64.3,316.30 L64.8,315.17 L65.3,314.91 L65.8,315.31 L66.3,315.81 L66.8,315.62 L67.3,314.66 L67.8,314.23 L68.3,314.00 L68.8,313.94 L69.3,313.98 L69.8,314.27 L70.3,314.78 L70.8,313.58 L71.3,313.13 L71.8,313.07 L72.3,312.29 L72.8,312.17 L73.3,312.37 L73.8,312.22 L74.3,311.47 L74.8,312.00 L75.3,311.41 L75.8,311.27 L76.3,311.47 L76.8,311.33 L77.3,311.12 L77.8,310.44 L78.3,309.99 L78.8,309.66 L79.3,309.16 L79.8,309.52 L80.3,308.48 L80.8,308.19 L81.3,309.26 L81.8,308.19 L82.3,307.48 L82.8,308.25 L83.3,307.55 L83.8,307.25 L84.3,306.24 L84.8,305.61 L85.3,304.54 L85.8,303.97 L86.3,304.26 L86.8,304.75 L87.3,305.35 L87.8,305.42 L88.3,303.82 L88.8,303.67 L89.3,302.88 L89.8,302.24 L90.3,301.23 L90.8,300.76 L91.3,300.73 L91.8,300.50 L92.3,300.60 L92.8,300.44 L93.3,300.85 L93.8,300.23 L94.3,299.85 L94.8,299.91 L95.3,299.26 L95.8,298.43 L96.3,297.90 L96.8,297.70 L97.3,297.92 L97.8,297.49 L98.3,296.86 L98.8,296.34 L99.3,295.41 L99.8,294.91 L100.3,294.05 L100.8,294.52 L101.3,293.83 L101.8,293.19 L102.3,292.78 L102.8,291.90 L103.3,291.34 L103.8,291.32 L104.3,290.16 L104.8,288.96 L105.3,288.47 L105.8,287.43 L106.3,287.90 L106.8,286.77 L107.3,286.14 L107.8,286.57 L108.3,285.59 L108.8,283.47 L109.3,282.43 L109.8,281.88 L110.3,280.90 L110.8,278.91 L111.3,277.87 L111.8,277.34 L112.3,276.06 L112.8,275.12 L113.3,273.73 L113.8,271.63 L114.3,270.01 L114.8,268.40 L115.3,268.81 L115.8,268.79 L116.3,267.15 L116.8,267.17 L117.3,266.35 L117.8,264.65 L118.3,263.52 L118.8,262.56 L119.3,261.50 L119.8,261.44 L120.3,262.30 L120.8,264.36 L121.3,266.36 L121.8,267.77 L122.3,269.97 L122.8,271.47 L123.3,273.78 L123.8,276.33 L124.3,278.32 L124.8,280.30 L125.3,282.22 L125.8,283.43 L126.3,284.85 L126.8,286.81 L127.3,288.80 L127.8,290.16 L128.3,292.10 L128.8,292.15 L129.3,291.67 L129.8,294.07 L130.3,296.54 L130.8,296.94 L131.3,297.31 L131.8,298.41 L132.3,300.51 L132.8,301.65 L133.3,302.29 L133.8,303.17 L134.3,304.40 L134.8,304.62 L135.3,304.42 L135.8,305.64 L136.3,306.13 L136.8,306.44 L137.3,307.12 L137.8,306.68 L138.3,306.06 L138.8,308.20 L139.3,308.80 L139.8,308.28 L140.3,308.29 L140.8,308.54 L141.3,308.34 L141.8,309.07 L142.3,309.28 L142.8,309.24 L143.3,309.19 L143.8,309.78 L144.3,311.07 L144.8,311.58 L145.3,311.28 L145.8,310.89 L146.3,310.82 L146.8,311.90 L147.3,312.27 L147.8,311.36 L148.3,311.86 L148.8,311.06 L149.3,311.76 L149.8,312.36 L150.3,311.69 L150.8,311.77 L151.3,312.94 L151.8,313.49 L152.3,313.30 L152.8,313.70 L153.3,313.34 L153.8,314.03 L154.3,313.62 L154.8,313.46 L155.3,313.63 L155.8,313.82 L156.3,314.66 L156.8,314.83 L157.3,313.86 L157.8,313.00 L158.3,312.40 L158.8,312.58 L159.3,313.05 L159.8,313.14 L160.3,313.16 L160.8,313.28 L161.3,313.23 L161.8,312.37 L162.3,312.59 L162.8,313.74 L163.3,313.68 L163.8,313.15 L164.3,313.46 L164.8,312.71 L165.3,312.20 L165.8,311.79 L166.3,312.67 L166.8,312.75 L167.3,312.97 L167.8,312.71 L168.3,312.16 L168.8,312.11 L169.3,312.27 L169.8,311.55 L170.3,311.17 L170.8,311.25 L171.3,311.53 L171.8,311.74 L172.3,311.76 L172.8,310.92 L173.3,310.78 L173.8,310.03 L174.3,310.13 L174.8,310.23 L175.3,310.66 L175.8,309.97 L176.3,309.19 L176.8,309.34 L177.3,309.09 L177.8,308.50 L178.3,308.08 L178.8,308.22 L179.3,309.47 L179.8,308.68 L180.3,308.08 L180.8,306.90 L181.3,306.54 L181.8,306.90 L182.3,307.08 L182.8,307.10 L183.3,306.39 L183.8,306.92 L184.3,307.13 L184.8,306.12 L185.3,306.16 L185.8,305.52 L186.3,305.72 L186.8,306.03 L187.3,306.15 L187.8,305.01 L188.3,305.00 L188.8,305.02 L189.3,303.95 L189.8,303.81 L190.3,303.35 L190.8,303.31 L191.3,303.89 L191.8,304.27 L192.3,304.87 L192.8,304.29 L193.3,303.51 L193.8,302.41 L194.3,301.91 L194.8,301.43 L195.3,300.65 L195.8,301.72 L196.3,300.83 L196.8,300.02 L197.3,300.28 L197.8,300.94 L198.3,300.82 L198.8,299.85 L199.3,299.62 L199.8,299.02 L200.3,298.30 L200.8,298.43 L201.3,297.94 L201.8,297.17 L202.3,297.50 L202.8,296.45 L203.3,296.35 L203.8,295.62 L204.3,295.15 L204.8,295.14 L205.3,295.21 L205.8,294.17 L206.3,294.36 L206.8,294.76 L207.3,293.55 L207.8,293.25 L208.3,293.16 L208.8,292.39 L209.3,292.14 L209.8,291.55 L210.3,291.59 L210.8,290.87 L211.3,290.18 L211.8,290.62 L212.3,289.70 L212.8,288.70 L213.3,287.88 L213.8,287.59 L214.3,287.43 L214.8,287.31 L215.3,286.90 L215.8,285.30 L216.3,285.14 L216.8,285.48 L217.3,284.67 L217.8,284.26 L218.3,284.19 L218.8,283.13 L219.3,282.27 L219.8,281.77 L220.3,282.01 L220.8,280.98 L221.3,279.42 L221.8,278.86 L222.3,277.92 L222.8,278.20 L223.3,277.59 L223.8,276.30 L224.3,275.04 L224.8,273.99 L225.3,274.40 L225.8,273.66 L226.3,272.87 L226.8,272.48 L227.3,271.14 L227.8,270.16 L228.3,269.23 L228.8,268.83 L229.3,269.72 L229.8,268.07 L230.3,266.90 L230.8,266.00 L231.3,263.54 L231.8,263.77 L232.3,263.33 L232.8,262.08 L233.3,261.29 L233.8,259.48 L234.3,259.46 L234.8,258.83 L235.3,256.27 L235.8,255.47 L236.3,255.62 L236.8,255.00 L237.3,254.02 L237.8,253.70 L238.3,252.70 L238.8,251.13 L239.3,250.56 L239.8,249.10 L240.3,247.46 L240.8,247.01 L241.3,248.11 L241.8,247.73 L242.3,247.24 L242.8,244.78 L243.3,243.96 L243.8,243.58 L244.3,242.59 L244.8,241.87 L245.3,240.67 L245.8,238.80 L246.3,236.95 L246.8,237.33 L247.3,238.50 L247.8,237.83 L248.3,236.85 L248.8,235.15 L249.3,234.44 L249.8,234.33 L250.3,235.35 L250.8,236.23 L251.3,237.69 L251.8,239.20 L252.3,239.29 L252.8,240.43 L253.3,241.00 L253.8,243.14 L254.3,244.18 L254.8,245.62 L255.3,247.63 L255.8,249.66 L256.3,249.95 L256.8,250.02 L257.3,250.39 L257.8,251.49 L258.3,251.64 L258.8,252.10 L259.3,252.85 L259.8,253.11 L260.3,252.35 L260.8,252.58 L261.3,252.08 L261.8,249.88 L262.3,250.22 L262.8,249.80 L263.3,247.55 L263.8,246.34 L264.3,244.64 L264.8,244.09 L265.3,243.03 L265.8,241.87 L266.3,240.04 L266.8,238.74 L267.3,237.79 L267.8,236.58 L268.3,235.58 L268.8,234.59 L269.3,233.20 L269.8,232.72 L270.3,231.66 L270.8,229.39 L271.3,229.18 L271.8,227.94 L272.3,226.33 L272.8,225.10 L273.3,224.31 L273.8,223.63 L274.3,222.91 L274.8,221.42 L275.3,221.06 L275.8,219.46 L276.3,218.99 L276.8,217.90 L277.3,215.71 L277.8,215.87 L278.3,215.42 L278.8,212.90 L279.3,211.71 L279.8,210.38 L280.3,209.22 L280.8,207.95 L281.3,206.93 L281.8,206.78 L282.3,205.98 L282.8,204.74 L283.3,204.49 L283.8,203.40 L284.3,201.56 L284.8,199.92 L285.3,200.19 L285.8,198.37 L286.3,194.70 L286.8,193.53 L287.3,193.36 L287.8,193.39 L288.3,192.30 L288.8,190.06 L289.3,188.87 L289.8,187.52 L290.3,185.26 L290.8,184.59 L291.3,183.13 L291.8,181.81 L292.3,180.05 L292.8,177.72 L293.3,176.37 L293.8,175.76 L294.3,174.50 L294.8,173.03 L295.3,172.06 L295.8,169.50 L296.3,167.10 L296.8,166.00 L297.3,164.76 L297.8,163.54 L298.3,162.74 L298.8,161.01 L299.3,159.43 L299.8,157.27 L300.3,155.08 L300.8,153.70 L301.3,151.30 L301.8,149.20 L302.3,146.77 L302.8,145.36 L303.3,143.61 L303.8,142.56 L304.3,142.18 L304.8,140.71 L305.3,137.45 L305.8,134.41 L306.3,132.60 L306.8,129.92 L307.3,126.99 L307.8,125.03 L308.3,122.97 L308.8,121.40 L309.3,120.76 L309.8,118.04 L310.3,116.34 L310.8,115.60 L311.3,113.33 L311.8,111.38 L312.3,110.72 L312.8,110.87 L313.3,110.19 L313.8,109.10 L314.3,107.73 L314.8,107.22 L315.3,107.62 L315.8,106.08 L316.3,105.87 L316.8,105.33 L317.3,105.82 L317.8,106.77 L318.3,107.01 L318.8,105.26 L319.3,107.49 L319.8,107.49 L320.3,108.48 L320.8,109.38 L321.3,109.30 L321.8,110.87 L322.3,112.82 L322.8,113.82 L323.3,115.28 L323.8,118.01 L324.3,119.85 L324.8,121.23 L325.3,124.87 L325.8,125.94 L326.3,125.89 L326.8,129.47 L327.3,134.42 L327.8,137.05 L328.3,137.72 L328.8,138.47 L329.3,141.86 L329.8,145.50 L330.3,147.38 L330.8,148.70 L331.3,150.76 L331.8,153.78 L332.3,155.64 L332.8,158.00 L333.3,160.78 L333.8,163.62 L334.3,165.13 L334.8,166.74 L335.3,168.45 L335.8,172.71 L336.3,175.60 L336.8,176.73 L337.3,177.56 L337.8,180.78 L338.3,184.47 L338.8,188.01 L339.3,189.63 L339.8,191.61 L340.3,194.03 L340.8,196.05 L341.3,196.72 L341.8,198.63 L342.3,201.10 L342.8,204.06 L343.3,206.67 L343.8,208.94 L344.3,210.59 L344.8,212.92 L345.3,215.20 L345.8,218.38 L346.3,219.83 L346.8,223.00 L347.3,224.22 L347.8,224.32 L348.3,226.82 L348.8,228.30 L349.3,228.93 L349.8,231.42 L350.3,233.17 L350.8,234.65 L351.3,235.70 L351.8,237.62 L352.3,239.51 L352.8,240.63 L353.3,241.80 L353.8,243.29 L354.3,244.58 L354.8,246.07 L355.3,246.78 L355.8,249.90 L356.3,251.34 L356.8,252.75 L357.3,253.97 L357.8,254.78 L358.3,257.16 L358.8,257.37 L359.3,258.92 L359.8,260.68 L360.3,262.30 L360.8,262.70 L361.3,263.26 L361.8,264.86 L362.3,265.39 L362.8,267.73 L363.3,270.09 L363.8,272.56 L364.3,273.44 L364.8,274.45 L365.3,275.63 L365.8,276.81 L366.3,278.24 L366.8,279.57 L367.3,279.79 L367.8,280.70 L368.3,281.26 L368.8,282.63 L369.3,283.54 L369.8,283.60 L370.3,284.51 L370.8,285.78 L371.3,286.92 L371.8,287.49 L372.3,287.23 L372.8,286.85 L373.3,287.22 L373.8,289.05 L374.3,290.08 L374.8,290.21 L375.3,290.67 L375.8,290.09 L376.3,290.46 L376.8,291.45 L377.3,290.97 L377.8,291.70 L378.3,292.17 L378.8,292.64 L379.3,293.35 L379.8,292.59 L380.3,292.40 L380.8,292.11 L381.3,292.88 L381.8,293.79 L382.3,294.38 L382.8,294.99 L383.3,295.52 L383.8,295.19 L384.3,295.04 L384.8,296.44 L385.3,297.08 L385.8,296.67 L386.3,297.44 L386.8,299.19 L387.3,299.63 L387.8,299.80 L388.3,299.83 L388.8,299.73 L389.3,299.89 L389.8,300.67 L390.3,300.84 L390.8,301.07 L391.3,301.66 L391.8,302.26 L392.3,302.77 L392.8,302.81 L393.3,303.93 L393.8,302.81 L394.3,302.75 L394.8,303.29 L395.3,302.61 L395.8,302.58 L396.3,302.37 L396.8,301.24 L397.3,301.98 L397.8,302.31 L398.3,302.77 L398.8,303.35 L399.3,303.74 L399.8,304.24 L400.3,304.29 L400.8,303.88 L401.3,303.47 L401.8,303.57 L402.3,302.90 L402.8,303.43 L403.3,304.48 L403.8,304.14 L404.3,303.10 L404.8,303.59 L405.3,304.69 L405.8,305.06 L406.3,304.90 L406.8,303.64 L407.3,303.73 L407.8,304.40 L408.3,304.48 L408.8,305.02 L409.3,305.41 L409.8,305.65 L410.3,305.71 L410.8,306.19 L411.3,306.46 L411.8,306.04 L412.3,305.76 L412.8,306.84 L413.3,306.89 L413.8,306.89 L414.3,306.60 L414.8,306.10 L415.3,306.89 L415.8,306.63 L416.3,306.67 L416.8,307.79 L417.3,307.60 L417.8,307.85 L418.3,308.54 L418.8,308.52 L419.3,307.05 L419.8,307.36 L420.3,308.18 L420.8,307.30 L421.3,306.32 L421.8,307.82 L422.3,308.67 L422.8,308.96 L423.3,308.69 L423.8,308.40 L424.3,308.66 L424.8,308.61 L425.3,308.51 L425.8,308.92 L426.3,308.92 L426.8,308.61 L427.3,309.51 L427.8,309.83 L428.3,309.18 L428.8,307.81 L429.3,308.76 L429.8,309.06 L430.3,308.89 L430.8,309.28 L431.3,309.00 L431.8,310.04 L432.3,309.98 L432.8,309.76 L433.3,310.55 L433.8,310.42 L434.3,309.94 L434.8,309.42 L435.3,310.37 L435.8,311.20 L436.3,310.83 L436.8,310.01 L437.3,311.16 L437.8,311.70 L438.3,311.16 L438.8,310.21 L439.3,309.55 L439.8,309.79 L440.3,310.31 L440.8,310.95 L441.3,311.09 L441.8,310.32 L442.3,309.88 L442.8,310.28 L443.3,310.54 L443.8,311.43 L444.3,310.88 L444.8,311.47 L445.3,311.70 L445.8,311.19 L446.3,311.80 L446.8,311.48 L447.3,310.94 L447.8,311.00 L448.3,311.79 L448.8,312.04 L449.3,311.12 L449.8,311.89 L450.3,311.90 L450.8,311.63 L451.3,311.98 L451.8,312.23 L452.3,312.47 L452.8,312.72 L453.3,312.57 L453.8,313.73 L454.3,313.50 L454.8,312.35 L455.3,311.80 L455.8,312.64 L456.3,313.10 L456.8,313.76 L457.3,314.28 L457.8,314.67 L458.3,314.04 L458.8,314.06 L459.3,313.68 L459.8,313.94 L460.3,314.78 L460.8,314.33 L461.3,314.11 L461.8,314.21 L462.3,314.70 L462.8,314.95 L463.3,314.53 L463.8,314.23 L464.3,314.75 L464.8,314.59 L465.3,314.84 L465.8,315.35 L466.3,315.11 L466.8,314.55 L467.3,316.21 L467.8,316.74 L468.3,317.39 L468.8,317.37 L469.3,315.74 L469.8,315.54 L470.3,316.24 L470.8,316.55 L471.3,315.98 L471.8,316.12 L472.3,316.60 L472.8,316.03 L473.3,316.47 L473.8,316.93 L474.3,316.58 L474.8,316.78 L475.3,316.25 L475.8,315.52 L476.3,315.92 L476.8,316.30 L477.3,316.40 L477.8,316.69 L478.3,316.99 L478.8,317.03 L479.3,316.90 L479.8,316.66 L480.3,316.72 L480.8,316.73 L481.3,317.06 L481.8,317.62 L482.3,316.74 L482.8,317.12 L483.3,316.85 L483.8,317.51 L484.3,318.44 L484.8,318.61 L485.3,319.11 L485.8,318.48 L486.3,318.58 L486.8,318.90 L487.3,319.43 L487.8,319.70 L488.3,320.05 L488.8,320.84 L489.3,321.68 L489.8,321.71 L490.3,321.79 L490.8,321.86 L491.3,321.76 L491.8,321.65 L492.3,322.16 L492.8,322.69 L493.3,322.53 L493.8,323.57 L494.3,323.57 L494.8,323.39 L495.3,323.91 L495.8,324.75 L496.3,324.98 L496.8,325.32 L497.3,326.37 L497.8,326.47 L498.3,325.23 L498.8,325.60 L499.3,325.17 L499.8,324.86 L500.3,325.61 L500.8,326.47 L501.3,326.15 L501.8,326.29 L502.3,327.22 L502.8,327.10 L503.3,327.09 L503.8,327.86 L504.3,327.40 L504.8,326.59 L505.3,326.41 L505.8,326.90 L506.3,327.55 L506.8,328.14 L507.3,328.19 L507.8,327.65 L508.3,327.31 L508.8,328.11 L509.3,327.92 L509.8,327.21 L510.3,327.26 L510.8,328.09 L511.3,328.56 L511.8,328.56 L512.3,328.21 L512.8,328.92 L513.3,327.91 L513.8,328.50 L514.3,329.55 L514.8,329.35 L515.3,328.60 L515.8,329.22 L516.3,329.78 L516.8,329.36 L517.3,328.87 L517.8,329.38 L518.3,328.40 L518.8,328.42 L519.3,328.08 L519.8,328.04 L520.3,328.12 L520.8,328.03 L521.3,327.42" fill="none" stroke="#0000ff" stroke-width="2.25" stroke-linejoin="round" stroke-linecap="round"/>
</g>
<g id="ticks">
<text x="47.3" y="379.3" font-size="16" text-anchor="middle">1200</text>
<line x1="165.8" y1="355" x2="165.8" y2="351.7" stroke="#000" stroke-width="2.8" stroke-linecap="round"/>
<text x="165.8" y="379.3" font-size="16" text-anchor="middle">1300</text>
<line x1="284.3" y1="355" x2="284.3" y2="351.7" stroke="#000" stroke-width="2.8" stroke-linecap="round"/>
<text x="284.3" y="379.3" font-size="16" text-anchor="middle">1400</text>
<line x1="402.9" y1="355" x2="402.9" y2="351.7" stroke="#000" stroke-width="2.8" stroke-linecap="round"/>
<text x="402.9" y="379.3" font-size="16" text-anchor="middle">1500</text>
<text x="521.4" y="379.3" font-size="16" text-anchor="middle">1600</text>
</g>
<g id="legend">
<line x1="63.4" y1="39.9" x2="99.6" y2="39.9" stroke="#000000" stroke-width="2.5" stroke-linecap="round"/>
<text x="108.6" y="45.5" font-size="16">Pristine</text>
<line x1="63.4" y1="60.2" x2="99.6" y2="60.2" stroke="#ff0000" stroke-width="2.5" stroke-linecap="round"/>
<text x="108.6" y="65.8" font-size="16">1 layered <tspan letter-spacing="0.22">H-PEDOT:PSS</tspan></text>
<line x1="63.4" y1="80.6" x2="99.6" y2="80.6" stroke="#00ff00" stroke-width="2.5" stroke-linecap="round"/>
<text x="108.6" y="86.2" font-size="16">2 layered <tspan letter-spacing="0.22">H-PEDOT:PSS</tspan></text>
<line x1="63.4" y1="100.9" x2="99.6" y2="100.9" stroke="#0000ff" stroke-width="2.5" stroke-linecap="round"/>
<text x="108.6" y="106.5" font-size="16">3 layered <tspan letter-spacing="0.22">H-PEDOT:PSS</tspan></text>
</g>
<text class="title" x="177.8" y="407.6" font-size="24" letter-spacing="0.15">Raman Shift (cm</text>
<text class="title" transform="translate(369.1,397.2) scale(0.86,1)" font-size="16.4">-1</text>
<text class="title" x="382.5" y="407.6" font-size="24">)</text>
<text class="title" transform="translate(27,265.1) rotate(-90)" font-size="24">Intensity (a.u.)</text>
</svg>
</body>
</html>
